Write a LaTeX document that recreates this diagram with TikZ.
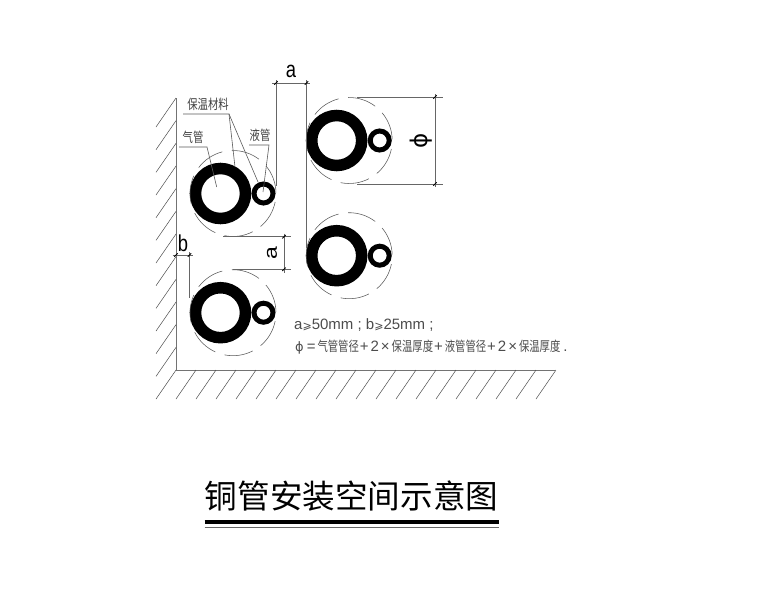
\documentclass[tikz,border=0pt]{standalone}
\usepackage{fontspec}
\usetikzlibrary{calc}
\setmainfont{Liberation Sans}
\newfontfamily\cjk{Noto Sans CJK SC}
\newfontfamily\symb{DejaVu Sans}
\newcommand{\narrowcjk}[1]{\scalebox{0.76}[1]{\cjk\fontsize{13.6}{14}\selectfont #1}}
\newcommand{\geqmark}{{\symb\fontsize{11}{11}\selectfont ⩾}}
\tikzset{
  wall/.style={draw=black!55, line width=1pt},
  hatch/.style={draw=black!70, line width=0.5pt},
  dimline/.style={draw=black!60, line width=0.7pt},
  leader/.style={draw=black!65, line width=0.6pt},
  bigpipe/.style={draw=black, line width=11.5pt},
  smallpipe/.style={draw=black, line width=5pt},
  insul/.style={draw=black!65, line width=0.55pt},
  dimtext/.style={inner sep=0pt, font=\fontsize{23}{23}\selectfont, xscale=0.8},
  cadtext/.style={inner sep=0pt, text=black!75},
  notetext/.style={inner sep=0pt, anchor=west, text=black!70, font=\fontsize{15}{15}\selectfont},
}
\begin{document}
\begin{tikzpicture}[x=1pt,y=-1pt]
  \useasboundingbox (0,0) rectangle (760,608);
  % walls
  \coordinate (walltop) at (176,98);
  \coordinate (corner) at (176,370);
  \coordinate (wallend) at (555,370);
  \draw[wall] (walltop)--(corner)--(wallend);
  \foreach \k in {0,...,12}
    \draw[hatch] (176,98+22.67*\k)--++(-20,29);
  \foreach \k in {1,...,19}
    \draw[hatch] (176+20*\k,370)--++(-20,29);
  % pipes
  \foreach \name/\x/\y in {ul/220.5/193.5, ur/336.7/140.5, mr/336.7/255.7, ll/220.5/312.7}{
    \coordinate (big\name) at (\x,\y);
    \coordinate (small\name) at (\x+43,\y);
    \coordinate (ins\name) at (\x+12.5,\y);
    \draw[bigpipe] (big\name) circle (25);
    \draw[smallpipe] (small\name) circle (9.5);
    \foreach \g in {5,56.4,107.9,159.3,210.7,262.1,313.6}
      \draw[insul] ($(ins\name)+(\g+6.4:43)$) arc[start angle=\g+6.4, delta angle=38.6, radius=43];
  }
  % dimension a, top
  \coordinate (a1) at (276,83);
  \coordinate (a2) at (306.5,83);
  \coordinate (a1e) at (276,186);
  \coordinate (a2e) at (306.5,248);
  \draw[dimline] (272,83)--(310,83);
  \draw[dimline] (276,80)--(a1e);
  \draw[dimline] (306.5,80)--(a2e);
  \node[dimtext] (atop) at (291,71) {a};
  % dimension phi
  \coordinate (p1) at (435,97);
  \coordinate (p2) at (435,184);
  \draw[dimline] (357,97)--(443,97);
  \draw[dimline] (357,184)--(443,184);
  \draw[dimline] (435,94)--(435,187);
  \node[inner sep=0pt, rotate=90, font=\symb\fontsize{23}{23}\selectfont] (phi) at (421,140.5) {ϕ};
  % dimension a, side
  \coordinate (a3) at (284,236.7);
  \coordinate (a4) at (284,269.3);
  \draw[dimline] (223,236.7)--(291,236.7);
  \draw[dimline] (233,269.3)--(291,269.3);
  \draw[dimline] (284,233.5)--(284,272.5);
  \node[dimtext, rotate=90] (aside) at (272,253) {a};
  % dimension b
  \coordinate (b1) at (176,255);
  \coordinate (b2) at (189.5,255);
  \draw[dimline] (172.5,255)--(193,255);
  \draw[dimline] (189.5,252)--(189.5,298);
  \node[dimtext] (btext) at (183,243) {b};
  % ticks
  \foreach \c in {a1,a2,p1,p2,a3,a4,b1,b2}
    \draw[line width=0.9pt] ($(\c)+(-1.7,1.7)$)--($(\c)+(1.7,-1.7)$);
  % labels
  \node[cadtext] (insullabel) at (208,104) {\narrowcjk{保温材料}};
  \node[cadtext] (gaslabel) at (193,137) {\narrowcjk{气管}};
  \node[cadtext] (liquidlabel) at (260,135) {\narrowcjk{液管}};
  \coordinate (insulknee) at (229,114);
  \draw[leader] (183,114)--(insulknee)--(235,167);
  \draw[leader] (insulknee)--(258,182);
  \draw[leader] (179,147)--(207,147)--(216.7,187);
  \draw[leader] (249,145)--(269,145)--(263,192);
  % note
  \node[notetext] (note1) at (294,325) {a\geqmark 50mm ; b\geqmark 25mm ;};
  \node[notetext] (note2) at (295,347) {{\symb\fontsize{13}{13}\selectfont ϕ}\hspace{3pt}=\hspace{2pt}\narrowcjk{气管管径}\hspace{1pt}+\hspace{2pt}2\hspace{2pt}×\hspace{2pt}\narrowcjk{保温厚度}\hspace{1pt}+\hspace{2pt}\narrowcjk{液管管径}\hspace{1pt}+\hspace{2pt}2\hspace{2pt}×\hspace{2pt}\narrowcjk{保温厚度}\hspace{3pt}.};
  % title
  \node[inner sep=0pt, font=\cjk\fontsize{32.6}{33}\selectfont] (title) at (351.5,496) {铜管安装空间示意图};
  \coordinate (t1) at (204.5,522);
  \coordinate (t2) at (498.5,522);
  \coordinate (t3) at (204.5,527.5);
  \coordinate (t4) at (498.5,527.5);
  \draw[line width=4pt] (t1)--(t2);
  \draw[draw=black!60, line width=0.7pt] (t3)--(t4);
\end{tikzpicture}
\end{document}
